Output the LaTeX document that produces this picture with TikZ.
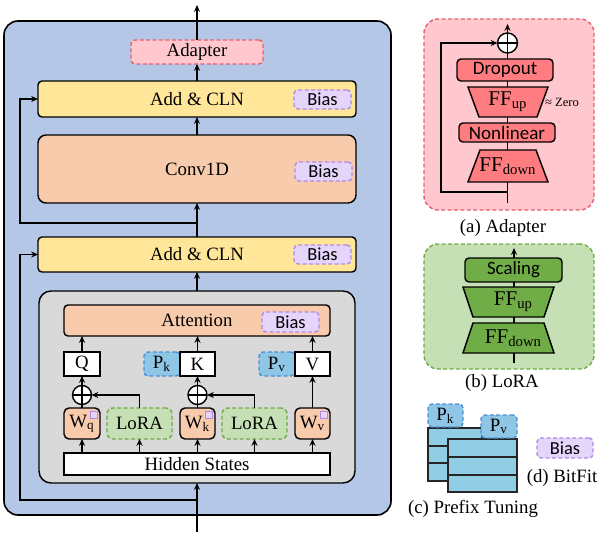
\documentclass[tikz,border=0pt]{standalone}
\usepackage{fontspec}
\setmainfont{Liberation Serif}
\newfontfamily\sansb{Carlito}
\usetikzlibrary{arrows.meta}

\definecolor{outerblue}{HTML}{B4C7E7}
\definecolor{graybg}{HTML}{D9D9D9}
\definecolor{peach}{HTML}{F8CBAD}
\definecolor{yel}{HTML}{FFE699}
\definecolor{biasfill}{HTML}{E5D5FB}
\definecolor{biasdraw}{HTML}{B08AE8}
\definecolor{adpfill}{HTML}{FFC7CE}
\definecolor{adpdraw}{HTML}{E8606E}
\definecolor{adpcomp}{HTML}{FF7C80}
\definecolor{lorafill}{HTML}{C5E0B4}
\definecolor{loradraw}{HTML}{70AD47}
\definecolor{loracomp}{HTML}{70AD47}
\definecolor{pfill}{HTML}{8FC6E6}
\definecolor{pdraw}{HTML}{4A8FD6}
\definecolor{tabfill}{HTML}{92CDE6}

\newcommand\pxbox[7]{\node[#2, minimum width={((#5)-(#3))*0.5pt}, minimum height={((#6)-(#4))*0.5pt}] (#1) at ({((#3)+(#5))/2},{((#4)+(#6))/2}) {#7};}

\tikzset{
  base/.style={inner sep=0pt, outer sep=0pt, font=\fontsize{9.4}{11}\selectfont, line width=0.72pt},
  dashpat/.style={dash pattern=on 2pt off 1.2pt},
  solidbox/.style={base, draw=black},
  biasbox/.style={base, fill=biasfill, draw=biasdraw, dashpat, rounded corners=2pt, font=\sansb\fontsize{9.2}{10}\selectfont},
  pbox/.style={base, fill=pfill, draw=pdraw, dashpat, rounded corners=2pt},
  tinysq/.style={base, fill=biasfill, draw=biasdraw, line width=0.45pt},
  adpc/.style={base, fill=adpcomp, draw=black, rounded corners=2pt, font=\sansb\fontsize{9.5}{10}\selectfont},
  lorac/.style={base, fill=loracomp, draw=black, rounded corners=2pt, font=\sansb\fontsize{9.4}{10}\selectfont},
  plus/.style={base, circle, draw=black, fill=white},
  arr/.style={-{Stealth[length=3.4pt,width=3pt]}, line width=0.72pt},
  ln/.style={line width=0.72pt},
  captext/.style={base},
  fftext/.style={base, font=\fontsize{10.5}{11}\selectfont},
}

\begin{document}
\begin{tikzpicture}[x=0.5pt,y=-0.5pt]
\useasboundingbox (0,0) rectangle (600,535);

% ---------------- main block ----------------
\pxbox{outer}{base, fill=outerblue, draw=black, line width=0.8pt, rounded corners=7pt}{4}{21}{391}{515}{}

\coordinate (out) at (197,5);
\coordinate (in) at (197,532);
\coordinate (s1) at (197,223);
\coordinate (s2) at (197,500);

\draw[arr] (s1) -- ++(-177,0) |- (38,99);
\draw[arr] (s2) -- ++(-177,0) |- (38,254.5);

\pxbox{adp}{base, fill=adpfill, draw=adpdraw, dashpat, rounded corners=2pt}{131}{40}{263}{64}{Adapter}
\pxbox{add2}{solidbox, fill=yel, rounded corners=2pt}{38}{81}{356}{117}{Add \& CLN}
\pxbox{b2}{biasbox}{294}{90}{351}{109}{Bias}
\pxbox{conv}{solidbox, fill=peach, rounded corners=4pt}{38}{135}{356}{203}{Conv1D}
\pxbox{b3}{biasbox}{295}{162}{352}{181}{Bias}
\pxbox{add1}{solidbox, fill=yel, rounded corners=2pt}{38}{237}{356}{272}{Add \& CLN}
\pxbox{b1}{biasbox}{294}{245}{351}{264}{Bias}
\pxbox{gray}{solidbox, fill=graybg, rounded corners=6pt}{39}{291}{355}{483}{}

\draw[arr] (adp.north) -- (out);
\draw[arr] (add2.north) -- (adp.south);
\draw[arr] (conv.north) -- (add2.south);
\draw[arr] (add1.north) -- (conv.south);
\draw[arr] (gray.north) -- (add1.south);
\draw[arr] (in) -- (gray.south);

% ---------------- attention block ----------------
\pxbox{att}{solidbox, fill=peach, rounded corners=2pt}{64}{305}{330}{336}{Attention}
\pxbox{batt}{biasbox}{262}{312}{319}{332}{Bias}

\pxbox{q}{solidbox, fill=white}{64}{352}{100}{376}{Q}
\pxbox{pk}{pbox}{144}{352}{180}{376}{P\textsubscript{k}}
\pxbox{k}{solidbox, fill=white}{180}{352}{215}{376}{K}
\pxbox{pv}{pbox}{259}{352}{295}{376}{P\textsubscript{v}}
\pxbox{v}{solidbox, fill=white}{295}{352}{330}{376}{V}

\node[plus, minimum size=9.5pt] (cq) at (82,395) {};
\node[plus, minimum size=9.5pt] (ck) at (197.5,395) {};
\draw[ln] (cq.north) -- (cq.south) (cq.west) -- (cq.east);
\draw[ln] (ck.north) -- (ck.south) (ck.west) -- (ck.east);

\pxbox{wq}{solidbox, fill=peach, rounded corners=2.5pt}{64}{408}{100}{439}{W\textsubscript{q}}
\pxbox{lora1}{base, fill=lorafill, draw=loradraw, dashpat, rounded corners=3pt}{107}{408}{172}{439}{LoRA}
\pxbox{wk}{solidbox, fill=peach, rounded corners=2.5pt}{180}{408}{215}{439}{W\textsubscript{k}}
\pxbox{lora2}{base, fill=lorafill, draw=loradraw, dashpat, rounded corners=3pt}{222}{408}{287}{439}{LoRA}
\pxbox{wv}{solidbox, fill=peach, rounded corners=2.5pt}{295}{408}{330}{439}{W\textsubscript{v}}

\pxbox{sq1}{tinysq}{90}{411}{97}{418}{}
\pxbox{sq2}{tinysq}{205}{411}{212}{418}{}
\pxbox{sq3}{tinysq}{320}{411}{327}{418}{}

\pxbox{hs}{solidbox, fill=white}{64}{453}{330}{475}{Hidden States}

\draw[arr] (hs.north -| wq.south) -- (wq.south);
\draw[arr] (hs.north -| lora1.south) -- (lora1.south);
\draw[arr] (hs.north -| wk.south) -- (wk.south);
\draw[arr] (hs.north -| lora2.south) -- (lora2.south);
\draw[arr] (hs.north -| wv.south) -- (wv.south);

\draw[ln] (wq.north) -- (cq.south);
\draw[ln] (wk.north) -- (ck.south);
\draw[arr] (cq.north) -- (q.south);
\draw[arr] (ck.north) -- (k.south);
\draw[arr] (wv.north) -- (v.south);
\draw[arr] (lora1.north) |- (cq.east);
\draw[arr] (lora2.north) |- (ck.east);

\draw[arr] (q.north) -- (q.north |- att.south);
\draw[arr] (k.north) -- (k.north |- att.south);
\draw[arr] (v.north) -- (v.north |- att.south);

% ---------------- (a) Adapter ----------------
\pxbox{apanel}{base, fill=adpfill, draw=adpdraw, dashpat, rounded corners=7pt}{424}{19}{594}{210}{}
\coordinate (ain) at (507.5,203);
\coordinate (aout) at (507.5,24);
\coordinate (askip) at (507.5,192);
\node[plus, minimum size=10pt] (ap) at (507.5,43) {};
\draw[ln] (ain) -- (ap.south);
\draw[arr] (ap.north) -- (aout);
\draw[arr] (askip) -- ++(-66.5,0) |- (ap.west);
\draw[ln] (ap.north) -- (ap.south) (ap.west) -- (ap.east);

\pxbox{drop}{adpc}{457}{59}{553}{81}{Dropout}
\draw[ln, fill=adpcomp] (468,87) -- (548,87) -- (537,117) -- (479,117) -- cycle;
\node[fftext] (affup) at (508,102) {FF\textsubscript{up}};
\node[base, font=\fontsize{6.3}{7}\selectfont, anchor=west] (zero) at (545,102) {≈ Zero};
\pxbox{nonlin}{adpc}{459}{123}{555}{142}{Nonlinear}
\draw[ln, fill=adpcomp] (480,150) -- (536,150) -- (548,182) -- (468,182) -- cycle;
\node[fftext] (affdown) at (508,166) {FF\textsubscript{down}};
\node[captext] (capa) at (503,228) {(a) Adapter};

% ---------------- (b) LoRA ----------------
\pxbox{lpanel}{base, fill=lorafill, draw=loradraw, dashpat, rounded corners=7pt}{424}{244}{594}{369}{}
\coordinate (lin) at (514,363);
\coordinate (lout) at (514,248);
\draw[arr] (lin) -- (lout);
\pxbox{scal}{lorac}{465}{258}{562}{282}{Scaling}
\draw[ln, fill=loracomp] (463,287) -- (554,287) -- (544,317) -- (473,317) -- cycle;
\node[fftext] (lffup) at (513.5,302) {FF\textsubscript{up}};
\draw[ln, fill=loracomp] (473,323) -- (544,323) -- (554,353) -- (463,353) -- cycle;
\node[fftext] (lffdown) at (513.5,338) {FF\textsubscript{down}};
\node[captext] (capb) at (502,383) {(b) LoRA};

% ---------------- (c) Prefix Tuning ----------------
\begin{scope}[line width=0.72pt]
\draw[fill=tabfill, draw=black!85] (428,428) rectangle (482,481);
\draw[draw=black!85] (428,446) -- (448,446) (428,463) -- (448,463);
\pxbox{tpk}{pbox}{428}{404}{463}{427}{P\textsubscript{k}}
\draw[fill=tabfill, draw=black!85] (448,439) rectangle (517,492);
\draw[draw=black!85] (448,457) -- (517,457) (448,475) -- (517,475);
\pxbox{tpv}{pbox}{481}{415}{517}{438}{P\textsubscript{v}}
\end{scope}
\node[captext] (capc) at (473,509) {(c) Prefix Tuning};

% ---------------- (d) BitFit ----------------
\pxbox{bd}{biasbox}{537}{438}{593}{458}{Bias}
\node[captext] (capd) at (562,478) {(d) BitFit};
\end{tikzpicture}
\end{document}
